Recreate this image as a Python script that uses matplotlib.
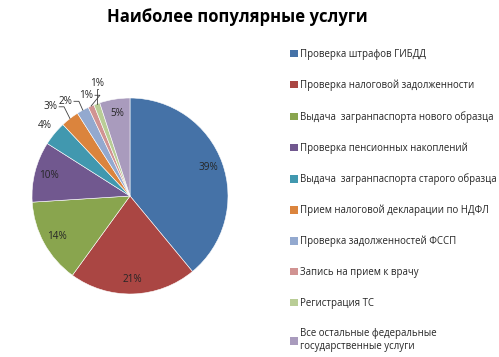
import matplotlib
matplotlib.use('Agg')
import matplotlib.pyplot as plt
from matplotlib.patches import Patch
import numpy as np

plt.rcParams['font.family'] = ['Open Sans', 'DejaVu Sans']

# данные
labels = [
    'Проверка штрафов ГИБДД',
    'Проверка налоговой задолженности',
    'Выдача  загранпаспорта нового образца',
    'Проверка пенсионных накоплений',
    'Выдача  загранпаспорта старого образца',
    'Прием налоговой декларации по НДФЛ',
    'Проверка задолженностей ФССП',
    'Запись на прием к врачу',
    'Регистрация ТС',
    'Все остальные федеральные\nгосударственные услуги',
]
values = [39, 21, 14, 10, 4, 3, 2, 1, 1, 5]
colors = ['#4572A7', '#AA4643', '#89A54E', '#71588F', '#4198AF',
          '#DB843D', '#93A9CF', '#D19392', '#B9CD96', '#A99BBD']

# смещения подписей маленьких секторов от края (в радиусах) и вид выноски
outside = {4: (-0.10, 0.08, None), 5: (-0.20, 0.12, 'h'), 6: (-0.18, 0.09, 'h'),
           7: (-0.05, 0.11, 'h'), 8: (0.0, 0.21, 'v')}

fig = plt.figure(figsize=(4.99, 3.57), dpi=100)
W, H = 499, 357
cx, cy, R = 130, 196, 98
lim = 1.3
side = 2 * lim * R
ax = fig.add_axes([(cx - side / 2) / W, (H - cy - side / 2) / H, side / W, side / H])

wedges, _ = ax.pie(values, colors=colors, startangle=90, counterclock=False,
                   wedgeprops=dict(edgecolor='white', linewidth=0.4))
ax.set_xlim(-lim, lim)
ax.set_ylim(-lim, lim)
ax.set_aspect('equal')
ax.axis('off')

total = sum(values)
lc = '#404040'
fs = 7.2
for i, w in enumerate(wedges):
    th = np.deg2rad((w.theta1 + w.theta2) / 2)
    txt = f'{round(values[i] / total * 100)}%'
    if i in outside:
        dx, dy, kind = outside[i]
        ex, ey = np.cos(th), np.sin(th)
        tx, ty = ex + dx, ey + dy
        if kind == 'h':
            ax.plot([ex, tx + 0.14, tx + 0.09], [ey, ty, ty], color=lc, lw=0.6, clip_on=False)
        elif kind == 'v':
            ax.plot([ex, ex, tx + 0.01], [ey, ty - 0.06, ty - 0.06], color=lc, lw=0.6, clip_on=False)
        ax.text(tx, ty, txt, ha='center', va='center', fontsize=fs, color='#262626')
    else:
        r = 0.85
        ax.text(r * np.cos(th), r * np.sin(th), txt, ha='center', va='center', fontsize=fs, color='#262626')

fig.text(237 / W, 1 - 17 / H, 'Наиболее популярные услуги', ha='center', va='center',
         fontsize=12, fontweight='bold', color='black')

handles = [Patch(facecolor=c, edgecolor='none') for c in colors]
fig.legend(handles, labels, loc='upper left', bbox_to_anchor=(290 / W, 1 - 49 / H),
           frameon=False, fontsize=6.9, labelspacing=2.05, handlelength=0.8, handleheight=0.8,
           handletextpad=0.25, borderpad=0, borderaxespad=0, labelcolor='#262626')

fig.savefig('out.png', dpi=100)
